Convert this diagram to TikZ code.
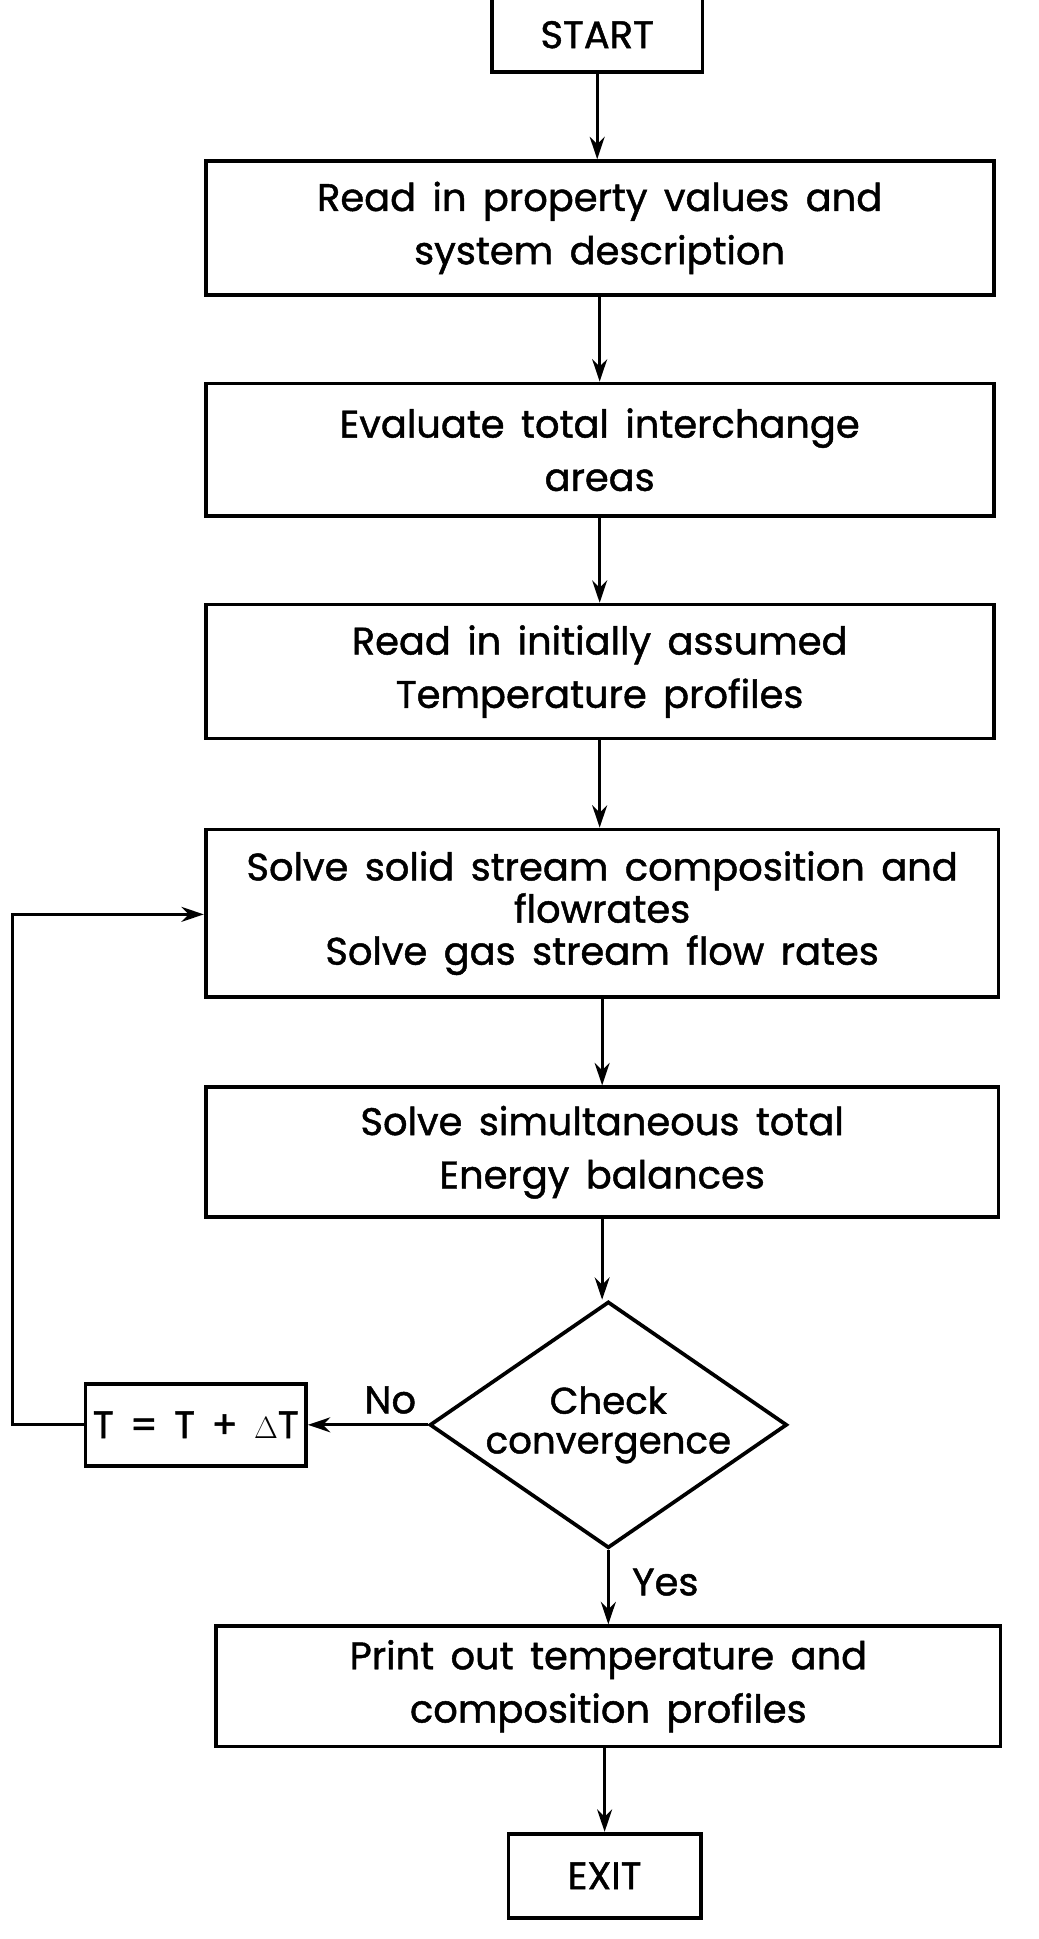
\documentclass[tikz,border=0pt]{standalone}
\usepackage{fontspec}
\setmainfont{Poppins}[FakeBold=1.2,WordSpace=1.6]
\usetikzlibrary{shapes.geometric,arrows.meta}
\begin{document}
\begin{tikzpicture}[x=1pt,y=-1pt,
 box/.style={draw,line width=3pt,rectangle,inner sep=0pt,align=center,font=\fontsize{31}{43}\selectfont},
 arr/.style={line width=2.6pt,-{Stealth[length=18pt,width=12pt]}},
 lab/.style={font=\fontsize{31}{34}\selectfont}]
\useasboundingbox (0,0) rectangle (838,1565);
\node[box,minimum width=170,minimum height=60] (start) at (482,28) {START};
\node[box,minimum width=636,minimum height=108] (b1) at (484,184) {Read in property values and\\system description};
\node[box,minimum width=636,minimum height=107] (b2) at (484,363) {Evaluate total interchange\\areas};
\node[box,minimum width=636,minimum height=108] (b3) at (484,542) {Read in initially assumed\\Temperature profiles};
\node[box,minimum width=640,minimum height=135,font=\fontsize{31}{34}\selectfont] (b4) at (486,737) {Solve solid stream composition and\\flowrates\\Solve gas stream flow rates};
\node[box,minimum width=640,minimum height=105] (b5) at (486,930) {Solve simultaneous total\\Energy balances};
\node[draw,line width=3pt,diamond,aspect=1.45,minimum width=262,minimum height=180,inner sep=0pt,align=center,font=\fontsize{30}{32}\selectfont] (d) at (491,1150) {Check\\convergence};
\node[box,minimum width=178,minimum height=66] (t) at (158,1150) {T = T + $\Delta$T};
\node[box,minimum width=633,minimum height=97] (b6) at (491,1361) {Print out temperature and\\composition profiles};
\node[box,minimum width=155,minimum height=68] (exit) at (488,1514) {EXIT};
\draw[arr] (start) -- (b1.north-|start);
\draw[arr] (b1) -- (b2);
\draw[arr] (b2) -- (b3);
\draw[arr] (b3.south) -- (b3.south|-b4.north);
\draw[arr] (b4) -- (b5);
\draw[arr] (b5.south) -- (b5.south|-d.north);
\draw[arr] (d.south) -- (d.south|-b6.north);
\draw[arr] (b6.south-|exit) -- (exit);
\draw[arr] (d.west) -- (t.east);
\coordinate (c1) at (10,1150);
\coordinate (c2) at (10,738);
\draw[arr] (t.west) -- (c1) -- (c2) -- (c2-|b4.west);
\node[lab] (no) at (315,1130) {No};
\node[lab] (yes) at (537,1277) {Yes};
\end{tikzpicture}
\end{document}
